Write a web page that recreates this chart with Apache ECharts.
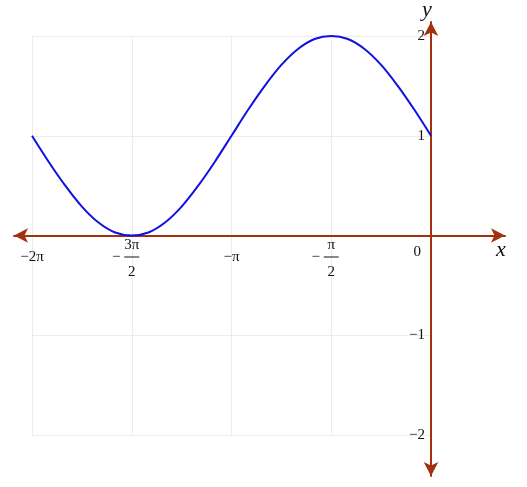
<!DOCTYPE html>
<html>
<head>
<meta charset="utf-8">
<script src="https://cdn.jsdelivr.net/npm/echarts@6/dist/echarts.min.js"></script>
<style>
  html, body { margin: 0; padding: 0; background: #fff; }
  #chart { width: 527px; height: 487px; }
</style>
</head>
<body>
<div id="chart"></div>
<script>
const xSteps = [-24, -23, -22, -21, -20, -19, -18, -17, -16, -15, -14, -13, -12,
                -11, -10, -9, -8, -7, -6, -5, -4, -3, -2, -1, 0];
const yValues = [1, 0.74, 0.5, 0.29, 0.13, 0.03, 0, 0.03, 0.13, 0.29, 0.5, 0.74, 1,
                 1.26, 1.5, 1.71, 1.87, 1.97, 2, 1.97, 1.87, 1.71, 1.5, 1.26, 1];

// tick labels on the x axis (keyed by step)
const xTickLabels = {
  '-24': { minus: '', num: '', txt: '−2π', den: '' },
  '-18': { minus: '−', num: '3π', txt: '', den: '2' },
  '-12': { minus: '', num: '', txt: '−π', den: '' },
  '-6':  { minus: '−', num: 'π', txt: '', den: '2' }
};
const yTickLabels = { '2': '2', '1': '1', '0': '0', '-1': '−1', '-2': '−2' };

const axisColor = '#a2310f';
const serif = '"Liberation Serif", "DejaVu Serif", serif';
const fs = 15;

const chart = echarts.init(document.getElementById('chart'), null, { renderer: 'canvas' });

const points = xSteps.map((x, i) => [x, yValues[i]]);

chart.setOption({
  animation: false,
  backgroundColor: '#ffffff',
  grid: [
    // plot area
    { left: 32, right: 96, top: 36, bottom: 52, outerBoundsMode: 'none' },
    // arrowed axes
    { left: 14, right: 22, top: 22, bottom: 11, outerBoundsMode: 'none' },
    // x tick labels, bottom edge on y = 0
    { left: 32, right: 96, top: 36, bottom: 251, outerBoundsMode: 'none' }
  ],
  xAxis: [
    {
      gridIndex: 0, type: 'value', min: -24, max: 0, interval: 6,
      axisLine: { show: false },
      axisTick: { show: false },
      axisLabel: { show: false },
      splitLine: { show: true, lineStyle: { color: '#ececec', width: 1 } }
    },
    {
      gridIndex: 1, type: 'value', min: -25.083, max: 4.451,
      name: 'x', nameLocation: 'end', nameGap: -4,
      nameTextStyle: {
        fontFamily: serif, fontSize: 22, fontStyle: 'italic', color: '#111',
        align: 'center', verticalAlign: 'top', padding: [4, 0, 0, 0]
      },
      axisLine: {
        show: true, onZero: true,
        symbol: ['arrow', 'arrow'], symbolSize: [11, 14],
        lineStyle: { color: axisColor, width: 2 }
      },
      axisTick: { show: false }, axisLabel: { show: false }, splitLine: { show: false }
    },
    {
      gridIndex: 2, type: 'value', min: -24, max: 0, interval: 6,
      axisLine: { show: false },
      axisTick: { show: false },
      splitLine: { show: false },
      axisLabel: {
        margin: 2,
        fontFamily: serif, fontSize: fs, color: '#111',
        formatter: function (v) {
          const t = xTickLabels[String(v)];
          if (!t) return '';
          if (t.txt) return '{num|\u00a0}\n{txt|' + t.txt + '}\n{den|\u00a0}';
          return '{num|' + t.num + '}\n{mi|' + t.minus + '}{bar|}{sp|}\n{den|' + t.den + '}';
        },
        rich: {
          num: { fontFamily: serif, fontSize: fs, lineHeight: 14, color: '#111' },
          txt: { fontFamily: serif, fontSize: fs, lineHeight: 10, color: '#111' },
          den: { fontFamily: serif, fontSize: fs, lineHeight: 20, color: '#111' },
          mi: { fontFamily: serif, fontSize: fs, lineHeight: 10, width: 16, color: '#111' },
          bar: { width: 15, height: 1, backgroundColor: '#111' },
          sp: { width: 16, height: 1 }
        }
      }
    }
  ],
  yAxis: [
    {
      gridIndex: 0, type: 'value', min: -2, max: 2, interval: 1,
      position: 'right',
      axisLine: { show: false },
      axisTick: { show: false },
      splitLine: { show: true, lineStyle: { color: '#ececec', width: 1 } },
      axisLabel: {
        inside: true,
        margin: 6,
        fontFamily: serif, fontSize: fs, color: '#111',
        formatter: function (v) {
          if (v === 0) return '{z|0}';
          return yTickLabels[String(v)] || '';
        },
        rich: {
          z: { fontFamily: serif, fontSize: fs, color: '#111', padding: [34, 4, 0, 0] }
        }
      }
    },
    {
      gridIndex: 1, type: 'value', min: -2.411, max: 2.140,
      name: 'y', nameLocation: 'end', nameGap: 1,
      nameTextStyle: {
        fontFamily: serif, fontSize: 22, fontStyle: 'italic', color: '#111',
        align: 'center', verticalAlign: 'bottom', padding: [0, 8, 0, 0]
      },
      axisLine: {
        show: true, onZero: true,
        symbol: ['arrow', 'arrow'], symbolSize: [11, 14],
        lineStyle: { color: axisColor, width: 2 }
      },
      axisTick: { show: false }, axisLabel: { show: false }, splitLine: { show: false }
    },
    {
      gridIndex: 2, type: 'value', min: -2, max: 0, show: false
    }
  ],
  series: [
    {
      type: 'line',
      xAxisIndex: 0, yAxisIndex: 0,
      data: points,
      smooth: 0.35,
      showSymbol: false,
      lineStyle: { color: '#1010e0', width: 2 },
      z: 3
    }
  ]
});
</script>
</body>
</html>
